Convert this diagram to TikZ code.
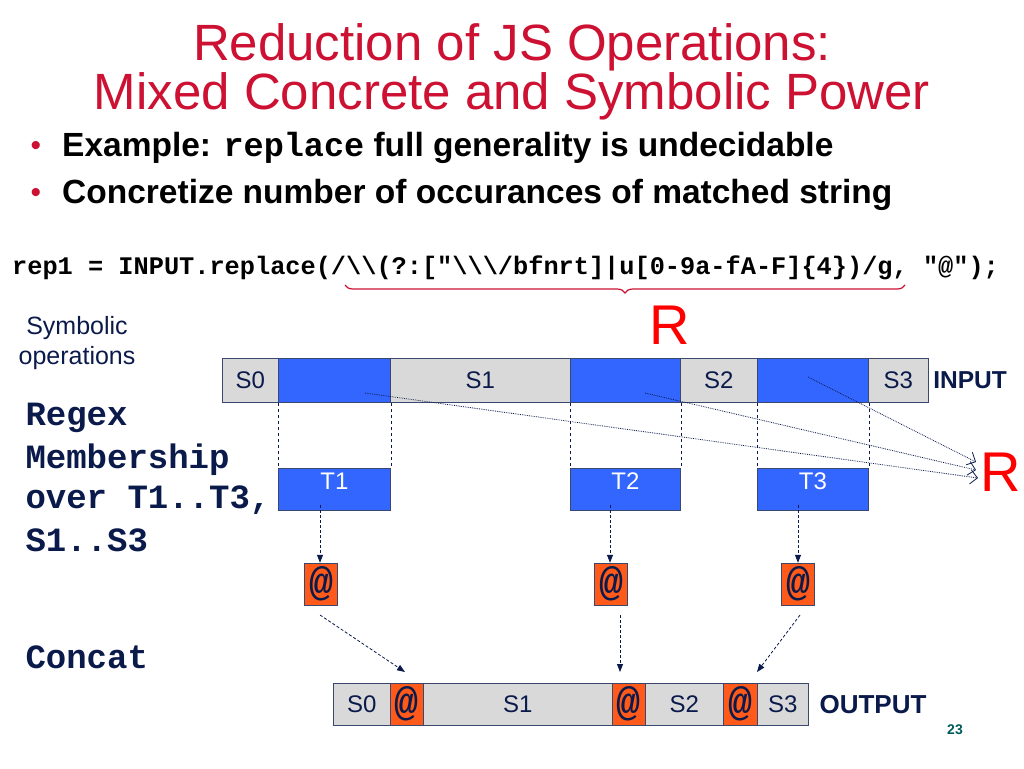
\documentclass[tikz,border=0pt]{standalone}
\usepackage{fontspec}
\setmainfont{Liberation Sans}
\setmonofont{Liberation Mono}
\usetikzlibrary{decorations.pathreplacing,arrows.meta}
\definecolor{navy}{HTML}{0A1A4A}
\definecolor{tred}{HTML}{CC1133}
\definecolor{bblue}{HTML}{3366FF}
\definecolor{lgrey}{HTML}{D9D9D9}
\definecolor{orng}{HTML}{FF5A1A}
\begin{document}
\begin{tikzpicture}[x=1pt,y=-1pt,
  seg/.style={draw=navy!80,line width=0.8pt,anchor=north west,inner sep=0pt,font=\fontsize{24}{24}\selectfont,text=navy},
  gseg/.style={seg,fill=lgrey},
  bseg/.style={seg,fill=bblue},
  tseg/.style={seg,fill=bblue,text=white},
  atbox/.style={draw=navy!80,fill=orng,inner sep=0pt,text=navy,font=\fontsize{40}{40}\selectfont\ttfamily\bfseries},
  dl/.style={dashed,navy,line width=0.5pt},
  dotarr/.style={densely dotted,navy,line width=0.8pt,-{Straight Barb[length=7pt]}},
  dasharr/.style={densely dashed,navy,line width=0.8pt,-{Triangle[length=8pt,width=6pt]}},
  mono/.style={font=\fontsize{34}{34}\selectfont\ttfamily\bfseries,text=navy,anchor=west}]
\useasboundingbox (0,0) rectangle (1024,768);
\node[text=tred,font=\fontsize{51}{45}\selectfont,align=center,inner sep=0pt] (title) at (512,72) {Reduction of JS Operations:\\Mixed Concrete and Symbolic Power};
\node[text=tred,font=\fontsize{30}{30}\selectfont] (b1) at (36,148) {•};
\node[text=tred,font=\fontsize{30}{30}\selectfont] (b2) at (36,195) {•};
\node[anchor=west,inner sep=0pt,font=\fontsize{33.5}{34}\selectfont\bfseries] (l1) at (62,148) {Example: \texttt{replace} full generality is undecidable};
\node[anchor=west,inner sep=0pt,font=\fontsize{33.5}{34}\selectfont\bfseries] (l2) at (62,195) {Concretize number of occurances of matched string};
\node[anchor=west,inner sep=0pt,font=\fontsize{25.3}{26}\selectfont\ttfamily\bfseries] (code) at (12,268) {rep1 = INPUT.replace(/\textbackslash\textbackslash(?:["\textbackslash\textbackslash\textbackslash/bfnrt]|u[0-9a-fA-F]\{4\})/g, "@");};
\coordinate (bl) at (345,285); \coordinate (br) at (905,285);
\draw[tred,line width=1.2pt,decorate,decoration={brace,mirror,amplitude=8pt,aspect=0.5}] (bl) -- (br);
\node[text=red,font=\fontsize{56}{56}\selectfont] (R1) at (670,325) {R};
\node[text=navy,font=\fontsize{25}{30}\selectfont,align=center] (symop) at (77,343) {Symbolic\\operations};
\node[mono] (rg1) at (22,418) {Regex};
\node[mono] (rg2) at (22,460) {Membership};
\node[mono] (rg3) at (22,500) {over T1..T3,};
\node[mono] (rg4) at (22,540) {S1..S3};
\node[mono] (cc) at (22,657) {Concat};
% input bar
\node[gseg,minimum width=56pt,minimum height=44pt] (s0) at (222,358) {S0};
\node[bseg,minimum width=112pt,minimum height=44pt] (m1) at (278,358) {};
\node[gseg,minimum width=180pt,minimum height=44pt] (s1) at (390,358) {S1};
\node[bseg,minimum width=110pt,minimum height=44pt] (m2) at (570,358) {};
\node[gseg,minimum width=77pt,minimum height=44pt] (s2) at (680,358) {S2};
\node[bseg,minimum width=111pt,minimum height=44pt] (m3) at (757,358) {};
\node[gseg,minimum width=60pt,minimum height=44pt] (s3) at (868,358) {S3};
\node[text=navy,font=\fontsize{24.5}{25}\selectfont\bfseries] (inp) at (970,380) {INPUT};
% T boxes
\node[tseg,minimum width=112pt,minimum height=42pt,text depth=16pt] (T1) at (278,468) {T1};
\node[tseg,minimum width=110pt,minimum height=42pt,text depth=16pt] (T2) at (570,468) {T2};
\node[tseg,minimum width=111pt,minimum height=42pt,text depth=16pt] (T3) at (757,468) {T3};
\foreach \a/\b in {m1/T1,m2/T2,m3/T3}{
  \draw[dl] (\a.south west) -- (\b.north west);
  \draw[dl] (\a.south east) -- (\b.north east);}
\node[text=red,font=\fontsize{56}{56}\selectfont] (R2) at (1001,472) {R};
\coordinate (a1) at (365,393); \coordinate (a2) at (645,393); \coordinate (a3) at (808,377);
\coordinate (e1) at (978,478); \coordinate (e2) at (976,470); \coordinate (e3) at (976,462);
\draw[dotarr] (a1) -- (e1);
\draw[dotarr] (a2) -- (e2);
\draw[dotarr] (a3) -- (e3);
% @ boxes
\node[atbox,minimum width=33pt,minimum height=42pt] (at1) at (321,584) {@};
\node[atbox,minimum width=33pt,minimum height=42pt] (at2) at (611,584) {@};
\node[atbox,minimum width=33pt,minimum height=42pt] (at3) at (798,584) {@};
\coordinate (p1) at (320,505); \coordinate (p2) at (610,505); \coordinate (p3) at (798,505);
\draw[dasharr] (p1) -- (at1.north -| p1);
\draw[dasharr] (p2) -- (at2.north -| p2);
\draw[dasharr] (p3) -- (at3.north -| p3);
% output bar
\node[gseg,minimum width=57pt,minimum height=42pt] (o0) at (333,683) {S0};
\node[atbox,anchor=north west,minimum width=33pt,minimum height=42pt] (oa1) at (390,683) {@};
\node[gseg,minimum width=189pt,minimum height=42pt] (o1) at (423,683) {S1};
\node[atbox,anchor=north west,minimum width=33pt,minimum height=42pt] (oa2) at (612,683) {@};
\node[gseg,minimum width=78pt,minimum height=42pt] (o2) at (645,683) {S2};
\node[atbox,anchor=north west,minimum width=34pt,minimum height=42pt] (oa3) at (723,683) {@};
\node[gseg,minimum width=51pt,minimum height=42pt] (o3) at (757,683) {S3};
\node[text=navy,font=\fontsize{26}{26}\selectfont\bfseries] (outl) at (873,705) {OUTPUT};
\node[text=teal!70!black,font=\fontsize{14}{14}\selectfont\bfseries] (pg) at (955,730) {23};
\coordinate (q1) at (320,615); \coordinate (q2) at (620,615); \coordinate (q3) at (800,615);
\coordinate (r1) at (405,672); \coordinate (r2) at (620,672); \coordinate (r3) at (757,672);
\draw[dasharr] (q1) -- (r1);
\draw[dasharr] (q2) -- (r2);
\draw[dasharr] (q3) -- (r3);
\end{tikzpicture}
\end{document}
